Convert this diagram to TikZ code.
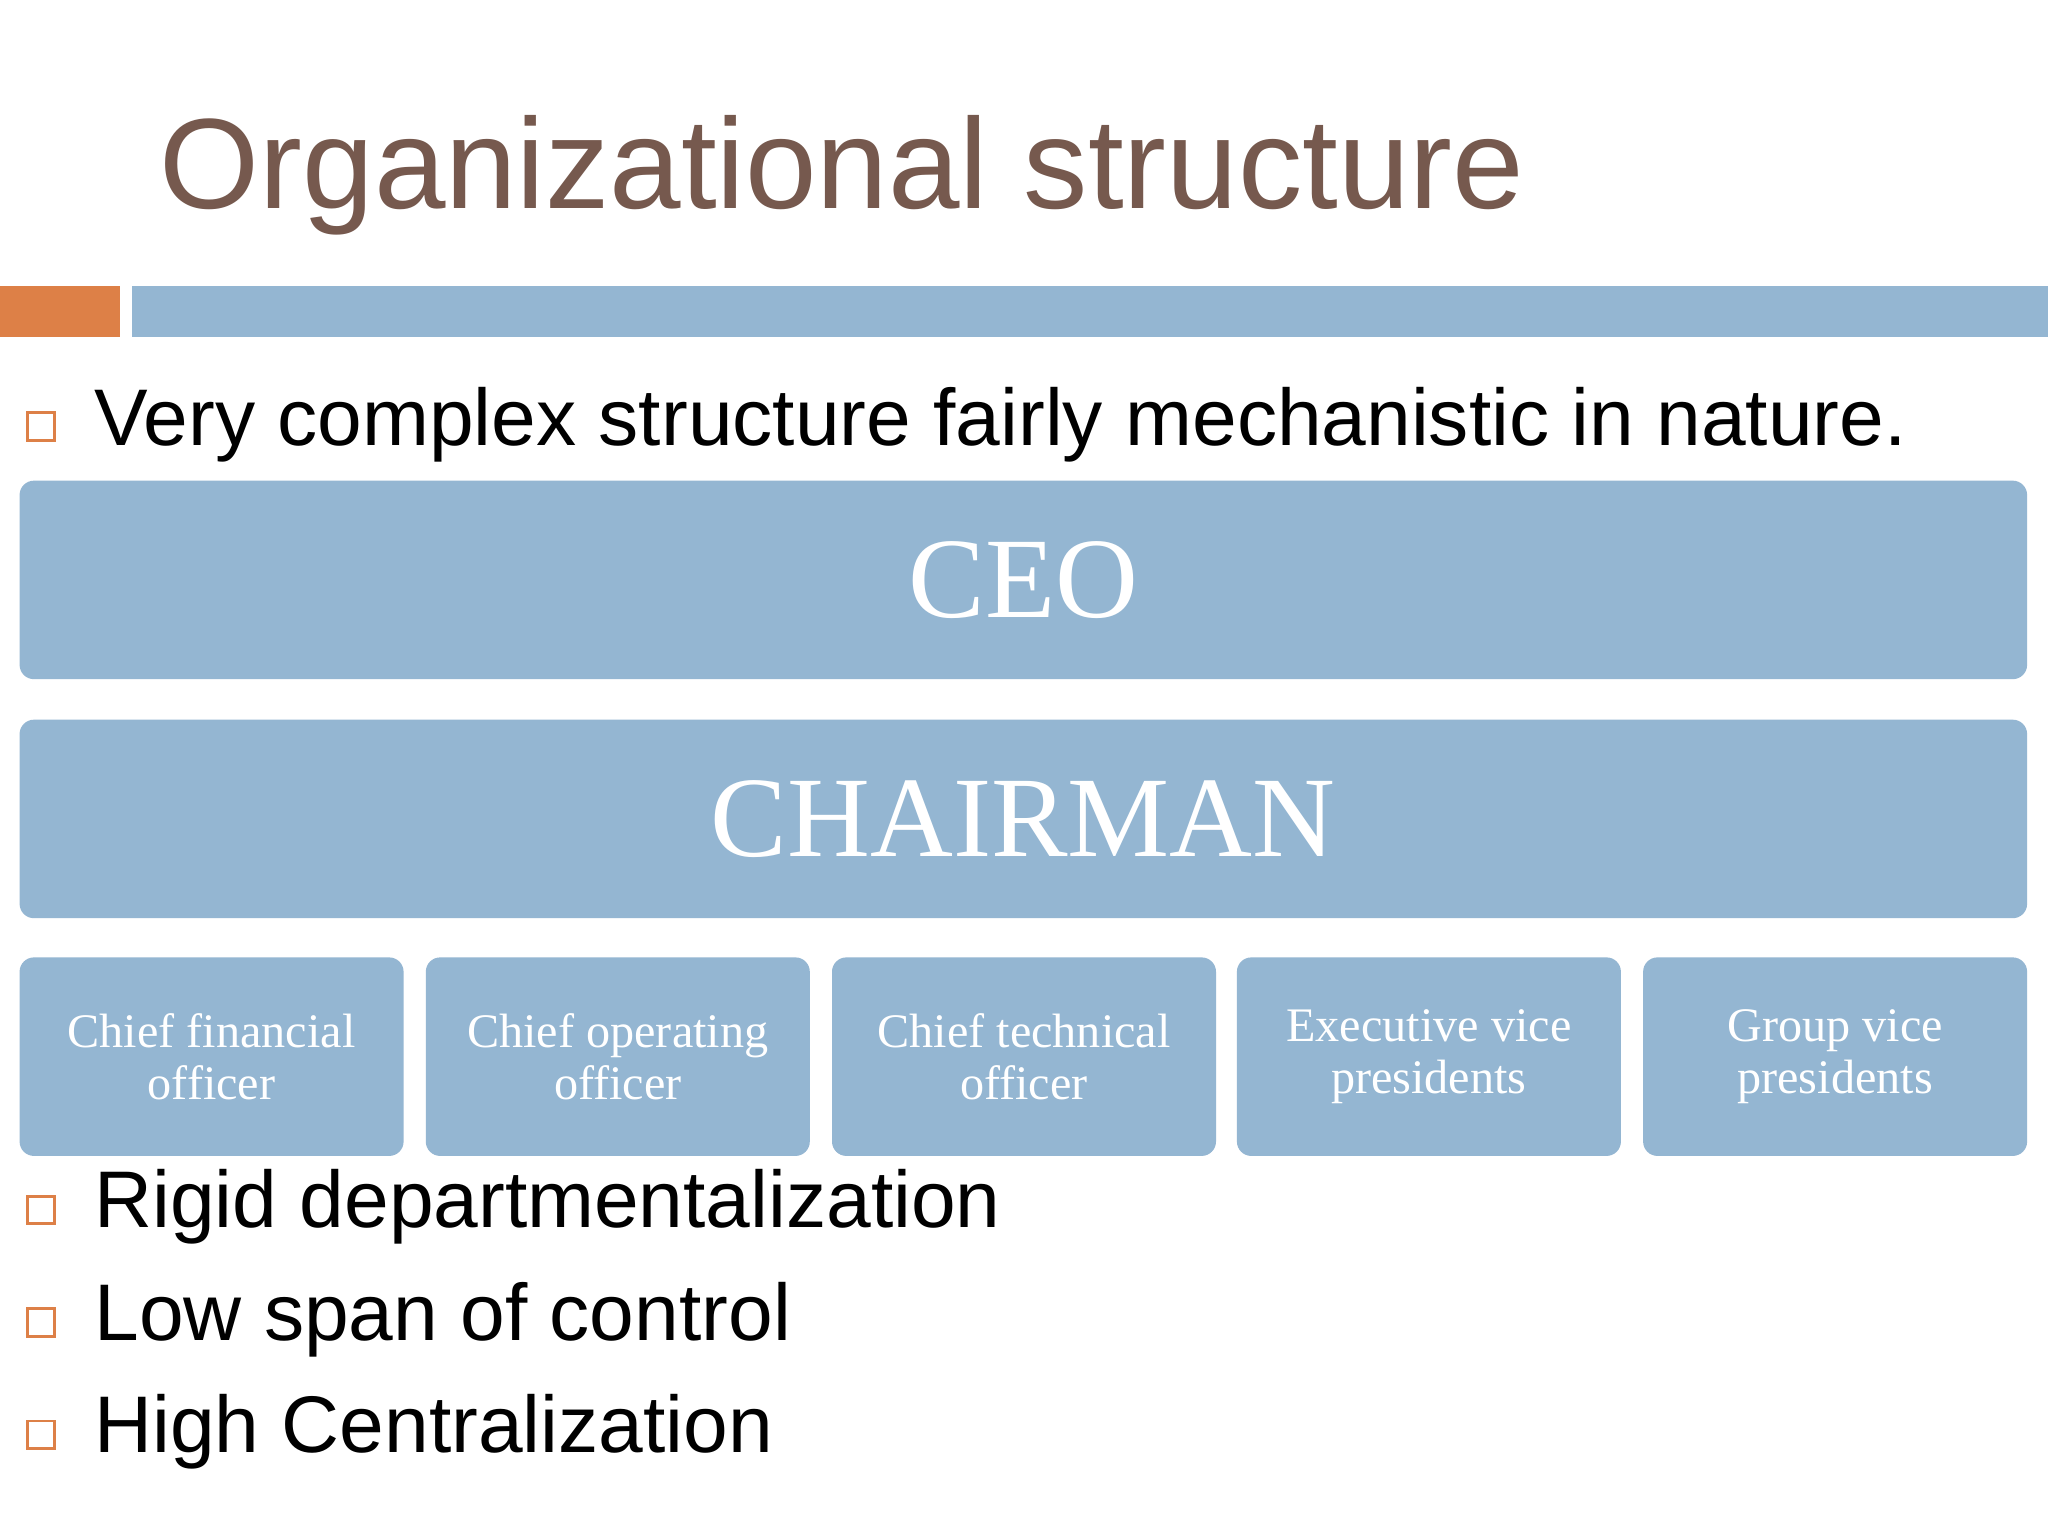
\documentclass[tikz,border=0pt]{standalone}
\usepackage{fontspec}
\setmainfont{Liberation Sans}
\newfontfamily\serifb{Liberation Serif}
\definecolor{titlec}{HTML}{76594E}
\definecolor{bluec}{HTML}{94B6D2}
\definecolor{orangec}{HTML}{DD8047}
\begin{document}
\begin{tikzpicture}[x=0.02cm,y=-0.02cm,
  box/.style={fill=bluec,rounded corners=0.22cm,draw=none},
  bul/.style={draw=orangec,line width=1.2pt},
  btxt/.style={anchor=base west,inner sep=0,font=\fontsize{35}{40}\selectfont},
  small/.style={text=white,align=center,font=\serifb\fontsize{21}{23}\selectfont}]
\fill[white] (0,0) rectangle (1568,1176);
\node[anchor=base west,inner sep=0,text=titlec,font=\fontsize{56}{60}\selectfont] (title) at (122,160) {Organizational structure};
\fill[orangec] (0,219) rectangle (92,258);
\fill[bluec] (101,219) rectangle (1568,258);
\draw[bul] (21,316) rectangle (42,337);
\node[btxt] (t1) at (72,341) {Very complex structure fairly mechanistic in nature.};
\fill[box] (15,368) rectangle (1552,520);
\node[text=white,font=\serifb\fontsize{50}{55}\selectfont] (ceo) at (783.5,444) {CEO};
\fill[box] (15,551) rectangle (1552,703);
\node[text=white,font=\serifb\fontsize{50}{55}\selectfont] (ch) at (783.5,627) {CHAIRMAN};
\foreach \x/\t [count=\i] in {15/{Chief financial\\officer},326/{Chief operating\\officer},637/{Chief technical\\officer},947/{Executive vice\\presidents},1258/{Group vice\\presidents}}{
  \fill[box] (\x,733) rectangle (\x+294,885);
  \node[small] (s\i) at (\x+147,809) {\t};
}
\draw[bul] (21,916) rectangle (42,937);
\node[btxt] (t2) at (72,940) {Rigid departmentalization};
\draw[bul] (21,1002) rectangle (42,1023);
\node[btxt] (t3) at (72,1026) {Low span of control};
\draw[bul] (21,1088) rectangle (42,1109);
\node[btxt] (t4) at (72,1112) {High Centralization};
\end{tikzpicture}
\end{document}
